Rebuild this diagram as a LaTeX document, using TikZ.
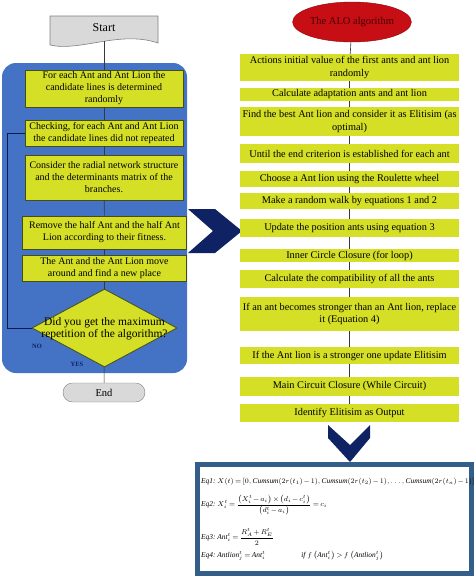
\documentclass[tikz,border=0pt]{standalone}
\usepackage{amsmath}
\usepackage{fontspec}
\setmainfont{Liberation Serif}
\usetikzlibrary{shapes.geometric, arrows}
\definecolor{panelblue}{RGB}{68,114,196}
\definecolor{lime}{RGB}{212,223,38}
\definecolor{boxedge}{RGB}{70,78,20}
\definecolor{startgray}{RGB}{217,217,217}
\definecolor{linkgray}{RGB}{55,55,60}
\definecolor{navy}{RGB}{14,34,100}
\definecolor{alored}{RGB}{198,14,20}
\definecolor{alotext}{RGB}{70,0,0}
\definecolor{eqblue}{RGB}{52,94,138}
\newcommand{\tightmath}{\medmuskip=2mu\relax\thickmuskip=3mu\relax}

\begin{document}
\begin{tikzpicture}
    [
        x=1pt, y=-1pt,
        lbox/.style = {draw=boxedge, fill=lime, shape=rectangle, align=center, inner sep=1pt, line width=0.8pt, font=\fontsize{10}{12}\selectfont},
        rbox/.style = {fill=lime, shape=rectangle, align=center, inner sep=1pt, minimum width=219pt, font=\fontsize{10.3}{12.5}\selectfont},
        link/.style = {draw=linkgray, line width=0.6pt},
        tag/.style = {text=navy, font=\fontsize{6.5}{7}\selectfont\bfseries, inner sep=0pt},
        eq/.style = {anchor=west, inner sep=0pt, font=\fontsize{7.4}{8}\selectfont\tightmath},
    ]

    \useasboundingbox (0,0) rectangle (474,576);

    \fill[panelblue, rounded corners=14pt] (2,63) rectangle (187,373);
    \filldraw[fill=startgray, draw=gray, line width=0.6pt] (50,16) -- (158,16) -- (158,43) .. controls (120,30) and (80,52) .. (50,45) -- cycle;

    \node[minimum width=108pt, minimum height=26pt, font=\fontsize{12}{14}\selectfont] (start) at (104,28) {Start};

    \node[lbox, minimum width=158pt, minimum height=37pt] (l1) at (104,88.5) {For each Ant and Ant Lion the\\candidate lines is determined\\randomly};
    \node[lbox, minimum width=158pt, minimum height=26pt] (l2) at (104,133) {Checking, for each Ant and Ant Lion\\the candidate lines did not repeated};
    \node[lbox, minimum width=158pt, minimum height=45pt] (l3) at (104,177.5) {Consider the radial network structure\\and the determinants matrix of the\\branches.};
    \node[lbox, minimum width=164pt, minimum height=33pt] (l4) at (104.5,232.5) {Remove the half Ant and the half Ant\\Lion according to their fitness.};
    \node[lbox, minimum width=164pt, minimum height=26pt] (l5) at (104.5,268) {The Ant and the Ant Lion move\\around and find a new place};

    \node[diamond, draw=boxedge, fill=lime, line width=0.8pt, minimum width=145pt, minimum height=78pt, inner sep=0pt] (dia) at (104.5,328) {};
    \node[align=center, font=\fontsize{11.5}{12.5}\selectfont] (dtext) at (104.5,328.5) {Did you get the maximum\\repetition of the algorithm?};

    \node[tag] (no) at (37,346) {NO};
    \node[tag] (yes) at (77,364) {YES};

    \node[draw=gray, fill=startgray, rounded corners=9.5pt, minimum width=82pt, minimum height=19pt, font=\fontsize{10.5}{12}\selectfont] (end) at (104,392.5) {End};

    \draw[link] (start) -- (l1);
    \draw[link] (l1) -- (l2);
    \draw[link] (l2) -- (l3);
    \draw[link] (l3) -- (l4);
    \draw[link] (l4) -- (l5);
    \draw[link] (l5) -- (dia);
    \draw[link] (dia) -- (end);
    \draw[link, draw=navy!80!black] (dia.west) -- ++(-24,0) |- (l2.west);

    \fill[navy] (188,209) -- (215,209) -- (242,231) -- (215,253) -- (188,253) -- (213,231) -- cycle;

    \node[ellipse, fill=alored, draw=alored!70!black, inner sep=0pt, minimum width=112pt, minimum height=40pt, text=alotext, font=\fontsize{10.5}{12}\selectfont] (alo) at (352,22) {The ALO algorithm};

    \node[rbox, minimum height=27pt] (r1) at (349.5,67.5) {Actions initial value of the first ants and ant lion\\randomly};
    \node[rbox, minimum height=13pt] (r2) at (349.5,94.5) {Calculate adaptation ants and ant lion};
    \node[rbox, minimum height=29pt] (r3) at (349.5,121.5) {Find the best Ant lion and consider it as Elitisim (as\\optimal)};
    \node[rbox, minimum height=19pt] (r4) at (349.5,153.5) {Until the end criterion is established for each ant};
    \node[rbox, minimum height=16pt] (r5) at (349.5,179) {Choose a Ant lion using the Roulette wheel};
    \node[rbox, minimum height=16pt] (r6) at (349.5,201) {Make a random walk by equations 1 and 2};
    \node[rbox, minimum height=18pt] (r7) at (349.5,228) {Update the position ants using equation 3};
    \node[rbox, minimum height=13pt] (r8) at (349.5,255.5) {Inner Circle Closure (for loop)};
    \node[rbox, minimum height=18pt] (r9) at (349.5,279) {Calculate the compatibility of all the ants};
    \node[rbox, minimum height=34pt] (r10) at (349.5,314) {If an ant becomes stronger than an Ant lion, replace\\it (Equation 4)};
    \node[rbox, minimum height=17pt] (r11) at (349.5,355.5) {If the Ant lion is a stronger one update Elitisim};
    \node[rbox, minimum height=19pt] (r12) at (349.5,386.5) {Main Circuit Closure (While Circuit)};
    \node[rbox, minimum height=18pt] (r13) at (349.5,413) {Identify Elitisim as Output};

    \draw[link] (alo) -- (r1);
    \draw[link] (r1) -- (r2);
    \draw[link] (r2) -- (r3);
    \draw[link] (r3) -- (r4);
    \draw[link] (r4) -- (r5);
    \draw[link] (r5) -- (r6);
    \draw[link] (r6) -- (r7);
    \draw[link] (r7) -- (r8);
    \draw[link] (r8) -- (r9);
    \draw[link] (r9) -- (r10);
    \draw[link] (r10) -- (r11);
    \draw[link] (r11) -- (r12);
    \draw[link] (r12) -- (r13);

    \fill[navy] (328,425) -- (350,445) -- (370,425) -- (370,438) -- (350,462) -- (328,438) -- cycle;

    \draw[draw=eqblue, line width=5pt, fill=white] (197.5,464.5) rectangle (471.5,573);

    \node[eq] (e1) at (201,482) {\textit{Eq1:}\ $X(t)=[0,\mathit{Cumsum}(2r(t_1)-1),\mathit{Cumsum}(2r(t_2)-1),\ldots,\mathit{Cumsum}(2r(t_n)-1)]$};
    \node[eq] (e2) at (201,505) {\textit{Eq2:}\ $X_i^t=\dfrac{\left(X_i^t-a_i\right)\times\left(d_i-c_i^t\right)}{\left(d_i^t-a_i\right)}=c_i$};
    \node[eq] (e3) at (201,537) {\textit{Eq3:}\ $\mathit{Ant}_i^t=\dfrac{R_A^t+R_E^t}{2}$};
    \node[eq] (e4) at (201,556) {\textit{Eq4:}\ $\mathit{Antlion}_j^t=\mathit{Ant}_i^t$\hspace{36pt}$\mathit{if}\ f\left(\mathit{Ant}_i^t\right)>f\left(\mathit{Antlion}_j^t\right)$};
\end{tikzpicture}
\end{document}
